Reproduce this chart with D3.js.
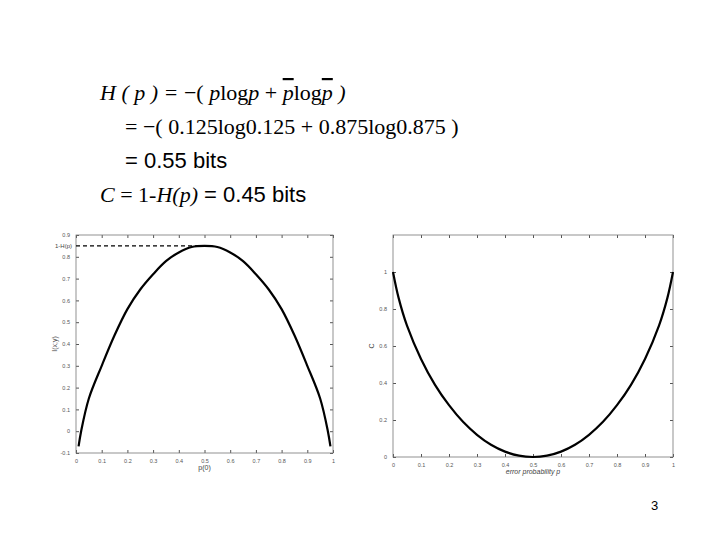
<!DOCTYPE html><html><head><meta charset="utf-8"><script src="https://cdn.jsdelivr.net/npm/d3@7/dist/d3.min.js"></script>
<style>body{margin:0;background:#fff}svg{display:block}</style></head><body>
<svg id="s" width="720" height="540"></svg>
<script>
const leftX=[0.01,0.02,0.05,0.1,0.15,0.2,0.25,0.3,0.35,0.4,0.45,0.5,0.55,0.6,0.65,0.7,0.75,0.8,0.85,0.9,0.95,0.98,0.99];
const leftY=[-0.07,0.0,0.15,0.3,0.44,0.56,0.65,0.72,0.78,0.82,0.845,0.85,0.845,0.82,0.78,0.72,0.65,0.56,0.44,0.3,0.15,0.0,-0.07];
const rightX=[0,0.02,0.05,0.1,0.15,0.2,0.25,0.3,0.35,0.4,0.45,0.5,0.55,0.6,0.65,0.7,0.75,0.8,0.85,0.9,0.95,0.98,1];
const rightY=[1,0.86,0.71,0.53,0.39,0.28,0.19,0.12,0.066,0.029,0.007,0,0.007,0.029,0.066,0.12,0.19,0.28,0.39,0.53,0.71,0.86,1];
const xTicks=[0,0.1,0.2,0.3,0.4,0.5,0.6,0.7,0.8,0.9,1];
const leftYTicks=[-0.1,0,0.1,0.2,0.3,0.4,0.5,0.6,0.7,0.8,0.9];
const rightYTicks=[0,0.2,0.4,0.6,0.8,1];
const svg=d3.select("#s");
const f=svg.append("g").attr("font-family","Liberation Serif").attr("font-size",22);
function line(y,x,parts){const t=f.append("text").attr("x",x).attr("y",y);parts.forEach(p=>{const s=t.append("tspan").text(p[0]);if(p[1])s.attr("font-style","italic");if(p[2])s.attr("text-decoration","overline");if(p[3])s.attr("font-family","Liberation Sans");});}
line(100,100,[["H ( p ) = ",1],["−( "],["p",1],["log"],["p",1],[" + "],["p",1,1],["log"],["p",1,1],[" )",1]]);
line(134,125,[["= −( 0.125log0.125 + 0.875log0.875 )"]]);
line(168,125,[["= 0.55  bits",0,0,1]]);
line(202,100,[["C",1],[" = 1-"],["H(p)",1],[" = 0.45 bits",0,0,1]]);
svg.append("text").attr("x",651).attr("y",510).attr("font-family","Liberation Sans").attr("font-size",13).text("3");

function plot(x0,x1,y0,y1,ydom,yt,xs,ys,xlab,ylab,italic){
  const g=svg.append("g").attr("font-family","Liberation Sans");
  const x=d3.scaleLinear().domain([0,1]).range([x0,x1]);
  const y=d3.scaleLinear().domain(ydom).range([y1,y0]);
  const ax=(a,t,tr)=>{const s=g.append("g").attr("transform",tr).call(a.tickValues(t).tickSize(3).tickFormat(d=>String(+d.toFixed(1)))).attr("font-size",5.5).attr("color","#555");s.select(".domain").remove();return s;};
  ax(d3.axisBottom(x),xTicks,`translate(0,${y1})`).selectAll(".tick line").attr("y2",-3);
  const tp=ax(d3.axisTop(x),xTicks,`translate(0,${y0})`);tp.selectAll(".tick line").attr("y2",3);tp.selectAll("text").remove();
  ax(d3.axisLeft(y),yt,`translate(${x0},0)`).selectAll(".tick line").attr("x2",3);
  const r=ax(d3.axisRight(y),yt,`translate(${x1},0)`);r.selectAll(".tick line").attr("x2",-3);r.selectAll("text").remove();
  g.append("rect").attr("x",x0).attr("y",y0).attr("width",x1-x0).attr("height",y1-y0).attr("fill","none").attr("stroke","#777").attr("stroke-width",0.8);
  g.append("path").datum(xs.map((v,i)=>[v,ys[i]])).attr("d",d3.line().x(d=>x(d[0])).y(d=>y(d[1])).curve(d3.curveCatmullRom.alpha(0.5))).attr("fill","none").attr("stroke","#000").attr("stroke-width",2.2);
  g.append("text").attr("x",(x0+x1)/2).attr("y",y1+17).attr("text-anchor","middle").attr("font-size",7).attr("font-style",italic?"italic":"normal").attr("fill","#444").text(xlab);
  g.append("text").attr("transform",`translate(${x0-19},${(y0+y1)/2}) rotate(-90)`).attr("text-anchor","middle").attr("font-size",7).attr("fill","#444").text(ylab);
  return {x,y,g};
}
const L=plot(76,333,235,453,[-0.1,0.9],leftYTicks,leftX,leftY,"p(0)","I(x;y)",false);
L.g.append("line").attr("x1",76).attr("x2",L.x(0.5)).attr("y1",L.y(0.85)).attr("y2",L.y(0.85)).attr("stroke","#000").attr("stroke-dasharray","4,3").attr("stroke-width",1.2);
L.g.append("text").attr("x",55).attr("y",L.y(0.85)+2).attr("font-size",6).attr("fill","#444").text("1-H(p)");
plot(393,673,235,457,[0,1.2],rightYTicks,rightX,rightY,"error probability p","C",true);
</script></body></html>
